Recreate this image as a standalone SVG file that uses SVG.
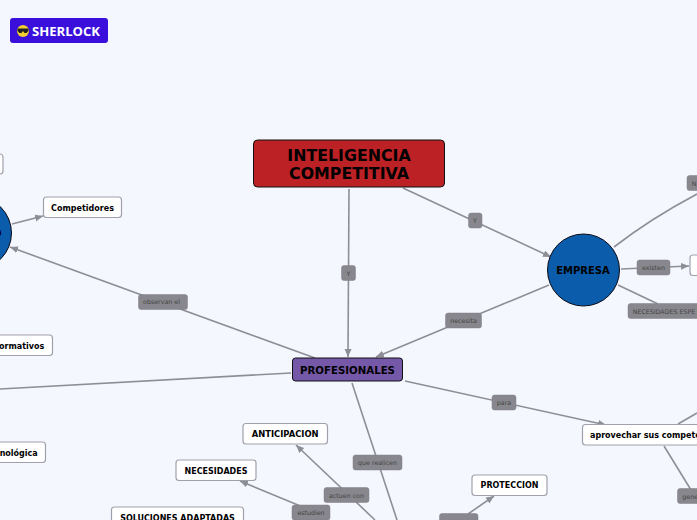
<svg xmlns="http://www.w3.org/2000/svg" width="697" height="520" viewBox="0 0 697 520">
<style>
text{font-family:"DejaVu Sans",Verdana,sans-serif}
.c{fill:none;stroke:#8e8e96;stroke-width:1.6}
.l rect{fill:#87878d;stroke:#808086;stroke-width:.5}
.l text{font-size:6.3px;fill:#444;text-anchor:middle}
.l text.s{text-anchor:start}
.n rect{fill:#fff;stroke:#a0a0ac;stroke-width:1.2}
.n text{font-size:8px;font-weight:bold;fill:#000;text-anchor:middle}
.n text.s{text-anchor:start}
.n text.e{text-anchor:end}
.m{text-anchor:middle;font-weight:bold}
.o{fill:#0b5cab;stroke:#0a0a14;stroke-width:1}
</style>
<defs><marker id="a" markerWidth="9" markerHeight="8" refX="8" refY="3.5" orient="auto" markerUnits="userSpaceOnUse"><path d="M0 0L8 3.5L0 7z" fill="#8e8e96"/></marker></defs>
<rect width="697" height="520" fill="#f5f7ff"/>
<g id="connectors">
<path class="c" d="M349 189L348 357" marker-end="url(#a)"/>
<path class="c" d="M403 188L551 257" marker-end="url(#a)"/>
<path class="c" d="M549 285L376 357" marker-end="url(#a)"/>
<path class="c" d="M315 358L10 247" marker-end="url(#a)"/>
<path class="c" d="M12 224L43 216" marker-end="url(#a)"/>
<path class="c" d="M291 373L0 389"/>
<path class="c" d="M405 381L606 425" marker-end="url(#a)"/>
<path class="c" d="M352 383L397 520"/>
<path class="c" d="M375 520L296 445" marker-end="url(#a)"/>
<path class="c" d="M310 510L240 481" marker-end="url(#a)"/>
<path class="c" d="M468 514L494 496" marker-end="url(#a)"/>
<path class="c" d="M614 247Q650 219 697 194"/>
<path class="c" d="M621 269L689 266" marker-end="url(#a)"/>
<path class="c" d="M618 285L658 304"/>
<path class="c" d="M678 424L697 413"/>
<path class="c" d="M664 446L691 490"/>
</g>
<g id="logo"><rect x="10" y="18" width="98" height="25" rx="3" fill="#3a0fdc"/><circle cx="23" cy="31" r="6" fill="#f2cf2e"/><path d="M17.500 28.500H28.500V31L26.500 33H24.500L23 31L21.500 33H19.500L17.500 31Z" fill="#222"/><text x="32" y="35.500" font-size="13" font-weight="bold" fill="#fff" style="font-family:'Open Sans',sans-serif" textLength="68" lengthAdjust="spacingAndGlyphs">SHERLOCK</text></g>
<g id="n-inteligencia"><rect x="253.500" y="140" width="191" height="47" rx="4" fill="#bb2125" stroke="#111" stroke-width="1"/><text class="m" x="349" y="161" font-size="15.800">INTELIGENCIA</text><text class="m" x="349" y="179" font-size="15.800">COMPETITIVA</text></g>
<g id="n-empresa"><circle cx="583.500" cy="270" r="36" class="o"/><text class="m" x="583" y="274" font-size="10">EMPRESA</text></g>
<g id="n-left"><circle cx="-25" cy="233" r="36.500" class="o"/><text x="1.500" y="236.500" font-size="10" font-weight="bold" text-anchor="end">O</text></g>
<g id="n-prof"><rect x="292.500" y="358" width="110" height="23" rx="3" fill="#7559a8" stroke="#111" stroke-width="1"/><text class="m" x="347.500" y="374" font-size="10.200">PROFESIONALES</text></g>
<g id="n-comp" class="n"><rect x="43.500" y="197" width="78" height="20.500" rx="3"/><text x="82.500" y="211">Competidores</text></g>
<g id="n-topleft" class="n"><rect x="-40" y="154" width="43" height="20" rx="3"/></g>
<g id="n-form" class="n"><rect x="-60" y="335" width="112.500" height="20.500" rx="3"/><text class="e" x="44.300" y="348.500">ormativos</text></g>
<g id="n-tec" class="n"><rect x="-60" y="442" width="105.500" height="20.500" rx="3"/><text class="e" x="37.700" y="455.500">nológica</text></g>
<g id="n-ant" class="n"><rect x="243" y="423.500" width="84.500" height="20.500" rx="3"/><text x="285.200" y="437" style="font-size:8.400px">ANTICIPACION</text></g>
<g id="n-nec" class="n"><rect x="176" y="460" width="80" height="20.500" rx="3"/><text x="216" y="474">NECESIDADES</text></g>
<g id="n-sol" class="n"><rect x="111.500" y="507" width="132" height="20.500" rx="3"/><text x="177.500" y="521">SOLUCIONES ADAPTADAS</text></g>
<g id="n-pro" class="n"><rect x="472" y="475" width="75" height="20.500" rx="3"/><text x="509.500" y="488">PROTECCION</text></g>
<g id="n-apr" class="n"><rect x="582.500" y="424.500" width="160" height="20.500" rx="3"/><text class="s" x="590" y="438">aprovechar sus compete</text></g>
<g id="n-rt" class="n"><rect x="690" y="255" width="40" height="20.500" rx="3"/></g>
<g id="labels">
<g class="l"><rect x="341.500" y="265.500" width="14" height="15" rx="2.500"/><text x="348.500" y="275.500">Y</text></g>
<g class="l"><rect x="468.500" y="213" width="13.500" height="15" rx="2.500"/><text x="475" y="223">Y</text></g>
<g class="l"><rect x="445.500" y="313" width="36" height="15" rx="2.500"/><text x="463.500" y="323">necesita</text></g>
<g class="l"><rect x="138.500" y="294.500" width="49" height="15" rx="2.500"/><text x="161.500" y="304">observan el</text></g>
<g class="l"><rect x="637" y="260" width="33" height="15" rx="2.500"/><text x="653.500" y="270">existen</text></g>
<g class="l"><rect x="628" y="303.500" width="90" height="15" rx="2.500"/><text class="s" x="632.700" y="313.500">NECESIDADES ESPE</text></g>
<g class="l"><rect x="687" y="175.500" width="30" height="15" rx="2.500"/><text class="s" x="691.700" y="185.500">N</text></g>
<g class="l"><rect x="492" y="395" width="24" height="15" rx="2.500"/><text x="504" y="405">para</text></g>
<g class="l"><rect x="353" y="455" width="49" height="15" rx="2.500"/><text x="377.500" y="465">que realicen</text></g>
<g class="l"><rect x="324" y="487.500" width="45" height="15" rx="2.500"/><text x="346.500" y="497.500">actuen con</text></g>
<g class="l"><rect x="292" y="505" width="38" height="15" rx="2.500"/><text x="311" y="515">estudien</text></g>
<g class="l"><rect x="439.500" y="513.500" width="38.500" height="15" rx="2.500"/><text x="459" y="524">aseguren</text></g>
<g class="l"><rect x="677.500" y="488.500" width="30" height="15" rx="2.500"/><text class="s" x="682.300" y="498.500">gene</text></g>
</g>
</svg>
